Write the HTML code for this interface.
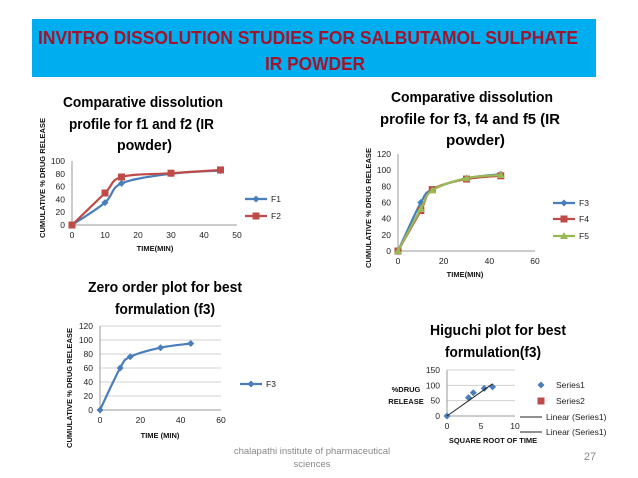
<!DOCTYPE html>
<html><head><meta charset="utf-8"><style>
body{margin:0;background:#fff;}
svg{display:block;font-family:"Liberation Sans",sans-serif;}
.t{font-weight:bold;fill:#000}
.tk{font-size:8.5px;fill:#222;font-family:"Liberation Sans",sans-serif}
.ax{font-size:7.5px;font-weight:bold;fill:#111;font-family:"Liberation Sans",sans-serif}
</style></head><body>
<svg id="s" width="638" height="478" viewBox="0 0 638 478">
<rect x="32" y="19" width="564" height="58" fill="#00aeef"/>
<text x="38" y="44" textLength="540" lengthAdjust="spacingAndGlyphs" font-size="18" font-weight="bold" fill="#a3142c">INVITRO DISSOLUTION STUDIES FOR SALBUTAMOL SULPHATE</text>
<text x="265" y="70" textLength="100" lengthAdjust="spacingAndGlyphs" font-size="18" font-weight="bold" fill="#a3142c">IR POWDER</text>
<g class="t" font-size="15">
<text x="63" y="107" textLength="160" lengthAdjust="spacingAndGlyphs">Comparative dissolution</text><text x="69" y="129" textLength="145" lengthAdjust="spacingAndGlyphs">profile for f1 and f2 (IR</text><text x="117" y="150" textLength="55" lengthAdjust="spacingAndGlyphs">powder)</text></g>
<g class="t" font-size="15">
<text x="391" y="102" textLength="162" lengthAdjust="spacingAndGlyphs">Comparative dissolution</text><text x="380" y="124" textLength="180" lengthAdjust="spacingAndGlyphs">profile for f3, f4 and f5 (IR</text><text x="446" y="145" textLength="59" lengthAdjust="spacingAndGlyphs">powder)</text></g>
<g class="t" font-size="15">
<text x="88" y="292" textLength="154" lengthAdjust="spacingAndGlyphs">Zero order plot for best</text><text x="115" y="314" textLength="100" lengthAdjust="spacingAndGlyphs">formulation (f3)</text></g>
<g class="t" font-size="15">
<text x="430" y="335" textLength="136" lengthAdjust="spacingAndGlyphs">Higuchi plot for best</text><text x="445" y="357" textLength="96" lengthAdjust="spacingAndGlyphs">formulation(f3)</text></g>
<text x="312" y="454" text-anchor="middle" font-size="9.5" fill="#888">chalapathi institute of pharmaceutical</text>
<text x="312" y="467" text-anchor="middle" font-size="9.5" fill="#888">sciences</text>
<text x="590" y="460" text-anchor="middle" font-size="11" fill="#888">27</text>
</svg>
<script>
const times=[0,10,15,30,45];
const f1=[0,35,65,80,85];
const f2=[0,50,75,81,86];
const f3=[0,60,76,90,95];
const f4=[0,50,76,89,93];
const f5=[0,52,75,90,94];
const f3zero=[0,60,76,89,95];
const sqrtT=[0,3.16,3.87,5.48,6.7];
const higY=[0,60,76,90,95];
const linFit=[[0,0],[6.7,105]];
const c1XTicks=[0,10,20,30,40,50], c1YTicks=[0,20,40,60,80,100];
const c2XTicks=[0,20,40,60], c2YTicks=[0,20,40,60,80,100,120];
const c4XTicks=[0,5,10], c4YTicks=[0,50,100,150];
const NS='http://www.w3.org/2000/svg';
const svg=document.getElementById('s');
function el(tag,attrs,parent){const e=document.createElementNS(NS,tag);for(const k in attrs)e.setAttribute(k,attrs[k]);(parent||svg).appendChild(e);return e;}
function txt(x,y,s,cls,anchor,parent){const e=el('text',{x:x,y:y,class:cls,'text-anchor':anchor||'middle'},parent);e.textContent=s;return e;}
function marker(g,type,x,y,color){
  let m;
  if(type==='d')m=el('polygon',{points:`${x},${y-3.5} ${x+3.5},${y} ${x},${y+3.5} ${x-3.5},${y}`,fill:color},g);
  else if(type==='s')m=el('rect',{x:x-3.5,y:y-3.5,width:7,height:7,fill:color},g);
  else m=el('polygon',{points:`${x},${y-4} ${x+4},${y+3} ${x-4},${y+3}`,fill:color},g);
  
  
}
function chart(o){
  const g=el('g',{});
  
  
  const sx=v=>o.x0+(v-o.xmin)/(o.xmax-o.xmin)*(o.x1-o.x0);
  const sy=v=>o.y0-(v-o.ymin)/(o.ymax-o.ymin)*(o.y0-o.y1);
  o.yt.forEach(v=>{
    if(o.grid&&v>0){const gl=el('line',{x1:o.x0,x2:o.x1,y1:sy(v),y2:sy(v),stroke:'#d0d0d0','stroke-width':1},g);}
    const t=txt(o.x0-7,sy(v)+3,String(v),'tk','end',g);
    
  });
  o.xt.forEach(v=>{const t=txt(sx(v),o.y0+13,String(v),'tk','middle',g);});
  const ya=el('line',{x1:o.x0,x2:o.x0,y1:o.y0,y2:o.y1,stroke:'#999'},g);
  const xa=el('line',{x1:o.x0,x2:o.x1,y1:o.y0,y2:o.y0,stroke:'#999'},g);
  const xt=txt(o.xlx,o.xly,o.xlabel,'ax','middle',g);
  if(o.ylabel){const yt=txt(0,0,o.ylabel,'ax','middle',g);yt.setAttribute('transform',`translate(${o.ylx},${o.yly}) rotate(-90)`);yt.setAttribute('textLength','120');yt.setAttribute('lengthAdjust','spacingAndGlyphs');yt.setAttribute('x','-60');yt.setAttribute('text-anchor','start');}
  o.series.forEach(s=>{
    const sg=el('g',{},g);
    
    
    const pts=s.xs.map((x,i)=>[sx(x),sy(s.ys[i])]);
    if(s.line!==false){let d='M'+pts[0][0]+','+pts[0][1];for(let i=1;i<pts.length;i++){const p0=pts[i-2]||pts[i-1],p1=pts[i-1],p2=pts[i],p3=pts[i+1]||p2;const t=0.17;d+=` C${p1[0]+(p2[0]-p0[0])*t},${p1[1]+(p2[1]-p0[1])*t} ${p2[0]-(p3[0]-p1[0])*t},${p2[1]-(p3[1]-p1[1])*t} ${p2[0]},${p2[1]}`;}
      el('path',{d:d,fill:'none',stroke:s.color,'stroke-width':2.2},sg);}
    pts.forEach(p=>marker(sg,s.m,p[0],p[1],s.color));
  });
  return {g,sx,sy};
}
function legend(x,y,label,color,m,lineOnly){
  const g=el('g',{});
  
  
  if(lineOnly!=='marker')el('line',{x1:x,x2:x+22,y1:y,y2:y,stroke:color,'stroke-width':lineOnly==='line'?1:2.2},g);
  if(m)marker(g,m,x+11,y,color);
  txt(x+26,y+3,label,'tk','start',g);
}
const B='#4a7ebb',R='#be4b48',G='#98b954';
chart({name:'chart1-f1-f2',x0:72,x1:237,y0:225,y1:161,xmin:0,xmax:50,ymin:0,ymax:100,xt:c1XTicks,yt:c1YTicks,xlabel:'TIME(MIN)',xlx:155,xly:251,ylabel:'CUMULATIVE % DRUG RELEASE',ylx:45,yly:178,
 series:[{label:'F1',xs:times,ys:f1,color:B,m:'d'},{label:'F2',xs:times,ys:f2,color:R,m:'s'}]});
legend(245,199,'F1',B,'d');legend(245,216,'F2',R,'s');
chart({name:'chart2-f3-f4-f5',x0:398,x1:535,y0:251,y1:154,xmin:0,xmax:60,ymin:0,ymax:120,xt:c2XTicks,yt:c2YTicks,xlabel:'TIME(MIN)',xlx:465,xly:277,ylabel:'CUMULATIVE % DRUG RELEASE',ylx:371,yly:208,
 series:[{label:'F3',xs:times,ys:f3,color:B,m:'d'},{label:'F4',xs:times,ys:f4,color:R,m:'s'},{label:'F5',xs:times,ys:f5,color:G,m:'t'}]});
legend(553,203,'F3',B,'d');legend(553,219,'F4',R,'s');legend(553,236,'F5',G,'t');
chart({name:'chart3-zero-order',x0:100,x1:221,y0:410,y1:326,xmin:0,xmax:60,ymin:0,ymax:120,xt:c2XTicks,yt:c2YTicks,grid:true,xlabel:'TIME (MIN)',xlx:160,xly:438,ylabel:'CUMULATIVE % DRUG RELEASE',ylx:72,yly:388,
 series:[{label:'F3',xs:times,ys:f3zero,color:B,m:'d'}]});
legend(240,384,'F3',B,'d');
const c4=chart({name:'chart4-higuchi',x0:447,x1:515,y0:416,y1:370,xmin:0,xmax:10,ymin:0,ymax:150,xt:c4XTicks,yt:c4YTicks,grid:true,xlabel:'SQUARE ROOT OF TIME',xlx:493,xly:443,
 series:[{label:'Series1',xs:sqrtT,ys:higY,color:B,m:'d',line:false}]});
const lf=el('line',{x1:c4.sx(linFit[0][0]),y1:c4.sy(linFit[0][1]),x2:c4.sx(linFit[1][0]),y2:c4.sy(linFit[1][1]),stroke:'#222','stroke-width':1},c4.g);


const yl1=txt(406,392,'%DRUG','ax','middle');
const yl2=txt(406,404,'RELEASE','ax','middle');
legend(530,385,'Series1',B,'d','marker');legend(530,401,'Series2',R,'s','marker');
legend(520,417,'Linear (Series1)','#222',null,'line');legend(520,432,'Linear (Series1)','#222',null,'line');
</script>
</body></html>
